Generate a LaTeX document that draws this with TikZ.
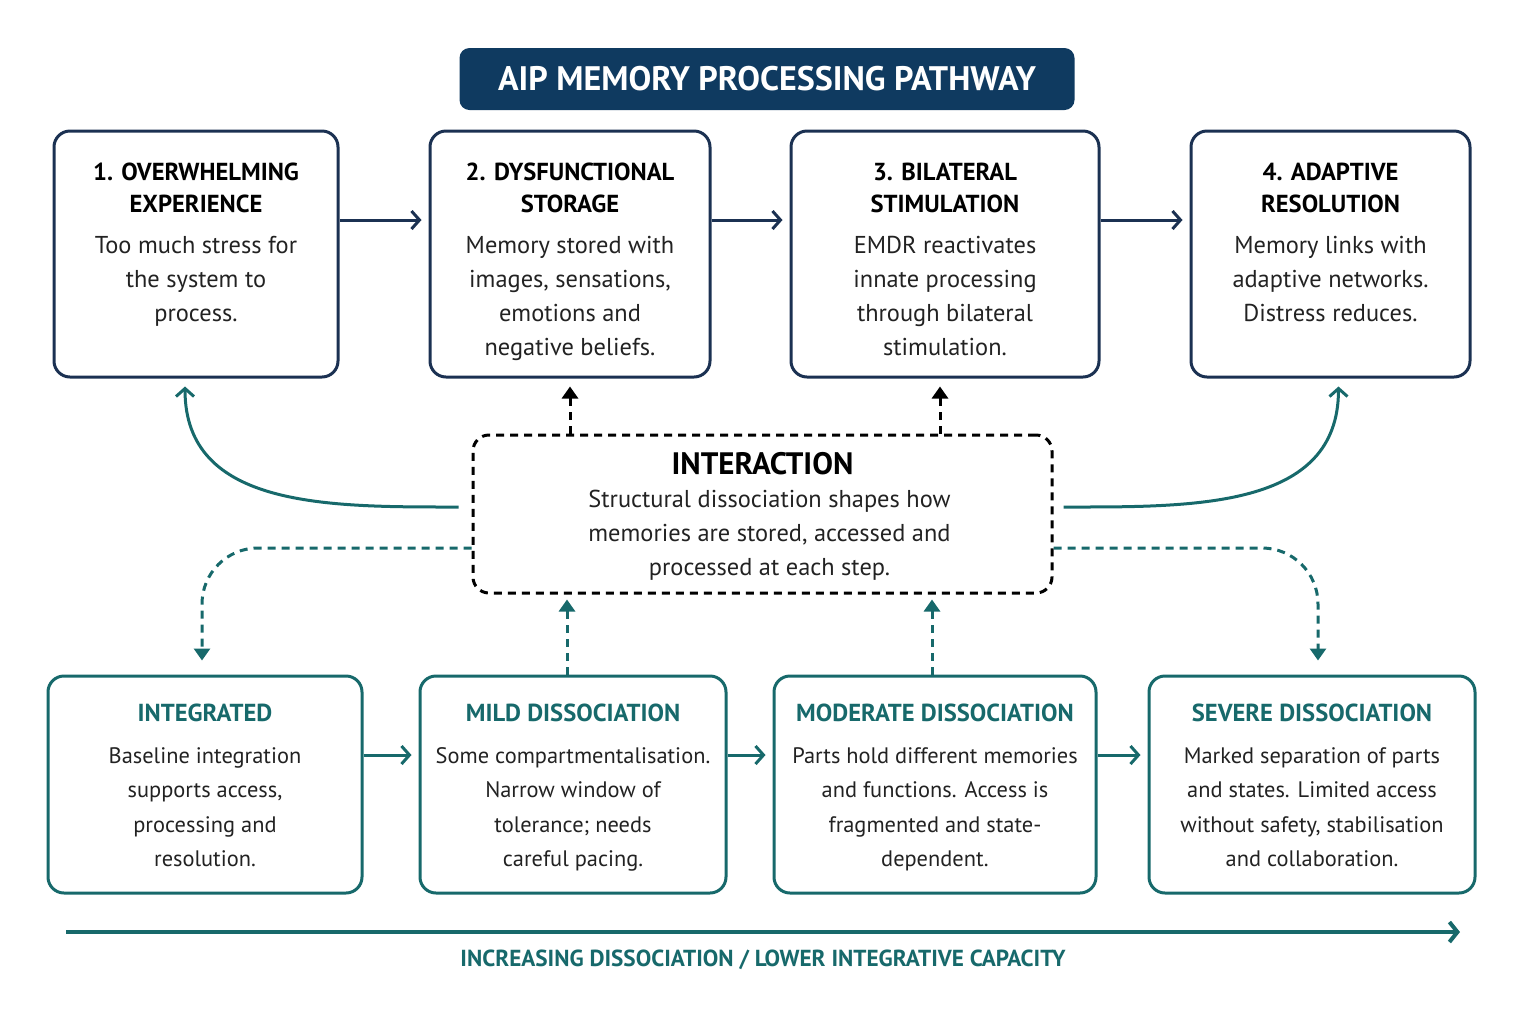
\documentclass[tikz,border=0pt]{standalone}
\usepackage{fontspec}
\setmainfont{PT Sans}
\usetikzlibrary{arrows.meta,positioning}

\definecolor{navy}{HTML}{1B3152}
\definecolor{titlebg}{HTML}{0F3A60}
\definecolor{aipteal}{HTML}{17696B}
\definecolor{bodytxt}{HTML}{222222}

\tikzset{
  titlebar/.style={fill=titlebg, rounded corners=5pt, minimum width=307.5pt, minimum height=31pt,
    text=white, font=\bfseries\fontsize{17}{20}\selectfont},
  stepbox/.style={draw=navy, line width=1.5pt, rounded corners=8pt, minimum height=123pt},
  levelbox/.style={draw=aipteal, line width=1.5pt, rounded corners=8pt, minimum height=108.5pt},
  interbox/.style={draw=black, line width=1.5pt, dash pattern=on 4pt off 3pt, rounded corners=8pt,
    minimum width=289.5pt, minimum height=79pt},
  stephead/.style={align=center, inner sep=0pt, text=black, font=\bfseries\fontsize{12.3}{16}\selectfont},
  levelhead/.style={stephead, text=aipteal},
  cardbody/.style={align=center, inner sep=0pt, text=bodytxt, font=\fontsize{12.2}{17}\selectfont},
  levelbody/.style={cardbody, font=\fontsize{11.2}{17.2}\selectfont},
  stepflow/.style={draw=navy, line width=1.5pt, -{Straight Barb[length=4pt,width=9pt]}, shorten >=3.5pt},
  levelflow/.style={stepflow, draw=aipteal},
  linkflow/.style={draw=aipteal, line width=1.5pt, -{Straight Barb[length=4pt,width=9pt]}, shorten >=4pt},
  dashflow/.style={draw=aipteal, line width=1.5pt, dash pattern=on 4pt off 3pt,
    -{Triangle[length=6pt,width=8pt]}},
  interflow/.style={dashflow, draw=black, shorten >=4pt},
}

\begin{document}
\begin{tikzpicture}[x=0.5pt,y=-0.5pt]
  \useasboundingbox (0,0) rectangle (1523,1019);

  % title
  \node[titlebar] (title) at (767,79) {AIP MEMORY PROCESSING PATHWAY};

  % AIP steps
  \node[stepbox, minimum width=142pt] (exp) at (196,254) {};
  \node[stephead, below=16.5pt of exp.north] (exp-h) {1. OVERWHELMING\\EXPERIENCE};
  \node[cardbody, below=11.5pt of exp-h] (exp-b) {Too much stress for\\the system to\\process.};

  \node[stepbox, minimum width=140pt] (store) at (570,254) {};
  \node[stephead, below=16.5pt of store.north] (store-h) {2. DYSFUNCTIONAL\\STORAGE};
  \node[cardbody, below=11.5pt of store-h] (store-b) {Memory stored with\\images, sensations,\\emotions and\\negative beliefs.};

  \node[stepbox, minimum width=154pt] (bls) at (945,254) {};
  \node[stephead, below=16.5pt of bls.north] (bls-h) {3. BILATERAL\\STIMULATION};
  \node[cardbody, below=11.5pt of bls-h] (bls-b) {EMDR reactivates\\innate processing\\through bilateral\\stimulation.};

  \node[stepbox, minimum width=139.5pt] (res) at (1330.5,254) {};
  \node[stephead, below=16.5pt of res.north] (res-h) {4. ADAPTIVE\\RESOLUTION};
  \node[cardbody, below=11.5pt of res-h] (res-b) {Memory links with\\adaptive networks.\\Distress reduces.};

  \draw[stepflow] ([yshift=17pt]exp.east) -- ([yshift=17pt]store.west);
  \draw[stepflow] ([yshift=17pt]store.east) -- ([yshift=17pt]bls.west);
  \draw[stepflow] ([yshift=17pt]bls.east) -- ([yshift=17pt]res.west);

  % interaction
  \node[interbox] (inter) at (762.5,514) {};
  \node[stephead, font=\bfseries\fontsize{15.5}{17}\selectfont, below=9pt of inter.north] (inter-h) {INTERACTION};
  \node[cardbody, below=7.5pt of inter-h, xshift=3.5pt] (inter-b) {Structural dissociation shapes how\\memories are stored, accessed and\\processed at each step.};

  \draw[interflow] (inter.north -| store.south) -- (store.south);
  \draw[interflow] ([xshift=-2.5pt]inter.north -| bls.south) -- ([xshift=-2.5pt]bls.south);

  \draw[linkflow] ([xshift=-6.5pt,yshift=3.5pt]inter.west) to[out=180,in=-90,looseness=1.1] ([xshift=-5.5pt]exp.south);
  \draw[linkflow] ([xshift=5pt,yshift=3.5pt]inter.east) to[out=0,in=-90,looseness=1.1] ([xshift=4pt]res.south);

  % dissociation levels
  \node[levelbox, minimum width=157pt] (integ) at (205,784.5) {};
  \node[levelhead, below=14.5pt of integ.north] (integ-h) {INTEGRATED};
  \node[levelbody, below=12.5pt of integ-h] (integ-b) {Baseline integration\\supports access,\\processing and\\resolution.};

  \node[levelbox, minimum width=153pt] (mild) at (573,784.5) {};
  \node[levelhead, below=14.5pt of mild.north] (mild-h) {MILD DISSOCIATION};
  \node[levelbody, below=12.5pt of mild-h] (mild-b) {Some compartmentalisation.\\Narrow window of\\tolerance; needs\\careful pacing.};

  \node[levelbox, minimum width=161pt] (moder) at (935,784.5) {};
  \node[levelhead, below=14.5pt of moder.north] (moder-h) {MODERATE DISSOCIATION};
  \node[levelbody, below=12.5pt of moder-h] (moder-b) {Parts hold different memories\\and functions. Access is\\fragmented and state-\\dependent.};

  \node[levelbox, minimum width=163pt] (severe) at (1312,784.5) {};
  \node[levelhead, below=14.5pt of severe.north] (severe-h) {SEVERE DISSOCIATION};
  \node[levelbody, below=12.5pt of severe-h] (severe-b) {Marked separation of parts\\and states. Limited access\\without safety, stabilisation\\and collaboration.};

  \draw[levelflow] ([yshift=14.75pt]integ.east) -- ([yshift=14.75pt]mild.west);
  \draw[levelflow] ([yshift=14.75pt]mild.east) -- ([yshift=14.75pt]moder.west);
  \draw[levelflow] ([yshift=14.75pt]moder.east) -- ([yshift=14.75pt]severe.west);

  \draw[dashflow, rounded corners=28pt, shorten >=7pt] ([yshift=-17pt]inter.west) -| ([xshift=-1.5pt]integ.north);
  \draw[dashflow, rounded corners=28pt, shorten >=7pt] ([yshift=-17pt]inter.east) -| ([xshift=3pt]severe.north);
  \draw[dashflow, shorten >=2.5pt] ([xshift=-3pt]mild.north) -- ([xshift=-3pt]inter.south -| mild.north);
  \draw[dashflow, shorten >=2.5pt] ([xshift=-1.5pt]moder.north) -- ([xshift=-1.5pt]inter.south -| moder.north);

  % axis
  \coordinate (axL) at (66,932);
  \coordinate (axR) at (1460,932);
  \draw[draw=aipteal, line width=2pt, -{Straight Barb[length=4pt,width=10pt]}] (axL) -- (axR);
  \node[text=aipteal, font=\bfseries\fontsize{11.6}{13}\selectfont] (axlab) at (763,960)
    {INCREASING DISSOCIATION / LOWER INTEGRATIVE CAPACITY};
\end{tikzpicture}
\end{document}
